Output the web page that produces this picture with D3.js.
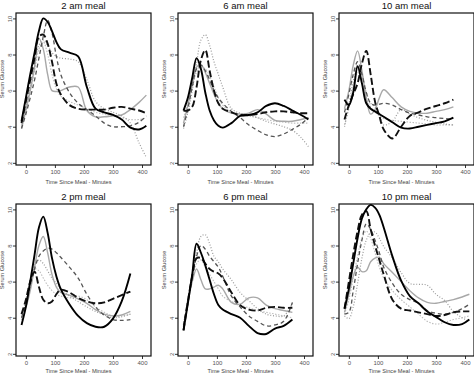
<!DOCTYPE html>
<html><head><meta charset="utf-8">
<script src="https://cdn.jsdelivr.net/npm/d3@7"></script>
<style>body{margin:0;background:#fff} svg{display:block}</style>
</head><body><svg id="c" width="474" height="374"></svg>
<script>
// ---------- DATA ----------
const titles = ["2 am meal", "6 am meal", "10 am meal", "2 pm meal", "6 pm meal", "10 pm meal"];
const xLabel = "Time Since Meal - Minutes";
const yLabel = "Serum Glucose";
const xTicks = [0, 100, 200, 300, 400];
const yTicks = [2, 4, 6, 8, 10];
const timesLong  = [-15, 0, 15, 30, 45, 60, 75, 90, 105, 120, 150, 180, 210, 240, 270, 300, 330, 360, 390, 415];
const timesShort = [-15, 0, 15, 30, 45, 60, 75, 90, 105, 120, 150, 180, 210, 240, 270, 300, 330, 360];

// series order: solid black, long-dash black, dashed gray, dotted gray, solid light gray, dotted light gray
const glucose2am = [
  [4.3, 5.6, 6.9, 8.1, 9.3, 10.0, 9.8, 9.3, 8.7, 8.3, 8.1, 7.9, 6.2, 5.0, 4.8, 4.65, 4.4, 3.95, 3.85, 4.05],
  [4.2, 5.4, 6.6, 7.8, 9.0, 9.1, 8.6, 7.6, 6.4, 5.8, 5.2, 5.0, 4.95, 4.95, 4.95, 5.05, 5.1, 5.0, 4.9, 4.75],
  [3.9, 4.7, 5.6, 6.6, 7.8, 9.0, 9.9, 9.2, 7.9, 6.9, 5.9, 5.3, 4.95, 4.6, 4.2, 4.0, 4.0, 4.05, 4.25, 4.6],
  [4.0, 5.0, 6.2, 7.4, 8.5, 8.8, 8.5, 8.1, 7.9, 7.8, 7.75, 7.6, 6.6, 5.4, 5.0, 4.8, 4.6, 4.2, 3.1, 2.3],
  [3.9, 4.9, 6.0, 7.3, 8.9, 8.3, 6.9, 6.0, 5.95, 6.0, 6.2, 6.2, 4.9, 4.55, 4.55, 4.6, 4.65, 4.95, 5.35, 5.75],
  [4.1, 5.0, 6.0, 7.1, 8.3, 8.7, 8.0, 6.9, 6.1, 5.7, 5.4, 5.2, 5.0, 4.8, 4.7, 4.6, 4.5, 4.4, 4.4, 4.5]
];
const glucose6am = [
  [4.9, 5.6, 6.7, 7.8, 7.2, 5.9, 4.9, 4.35, 4.05, 3.95, 4.2, 4.6, 4.65, 4.8, 5.15, 5.3, 5.15, 4.9, 4.65, 4.4],
  [4.9, 4.9, 5.1, 6.2, 7.7, 8.25, 7.1, 6.0, 5.3, 5.0, 4.8, 4.65, 4.65, 4.7, 4.8, 4.85, 4.85, 4.8, 4.75, 4.75],
  [4.0, 5.0, 6.2, 7.2, 7.4, 7.1, 6.6, 6.0, 5.6, 5.3, 4.85, 4.5, 4.1, 3.8, 3.55, 3.45, 3.6, 3.85, 4.15, 4.5],
  [3.9, 4.8, 6.0, 7.5, 8.8, 9.1, 8.5, 7.6, 6.9, 6.2, 5.0, 4.75, 4.65, 4.5, 4.3, 4.15, 4.0, 3.8, 3.4, 2.9],
  [4.2, 5.2, 6.3, 7.3, 7.45, 7.0, 6.4, 5.8, 5.3, 5.0, 4.75, 4.7, 4.75, 4.95, 4.7, 4.35, 4.3, 4.3, 4.4, 4.5],
  [4.5, 5.3, 6.3, 7.0, 7.3, 7.2, 6.8, 6.2, 5.6, 5.2, 4.8, 4.7, 4.6, 4.5, 4.4, 4.3, 4.25, 4.2, 4.2, 4.2]
];
const glucose10am = [
  [5.5, 5.2, 5.9, 7.35, 6.4, 5.3, 5.0, 4.85, 4.7, 4.55, 4.25, 3.95, 3.9, 4.0, 4.1, 4.2, 4.3, 4.5],
  [4.4, 5.2, 5.8, 6.4, 7.5, 8.2, 6.9, 5.4, 4.6, 3.85, 3.35, 4.0, 4.6, 4.8, 5.0, 5.15, 5.3, 5.5],
  [4.8, 5.8, 6.9, 7.6, 6.9, 5.9, 5.3, 5.2, 5.25, 5.3, 5.2, 4.95, 4.75, 4.65, 4.55, 4.5, 4.45, 4.4],
  [4.0, 5.2, 6.5, 7.4, 6.9, 5.9, 5.3, 5.1, 4.7, 4.1, 4.3, 4.95, 4.7, 4.5, 4.35, 4.25, 4.15, 4.1],
  [5.0, 6.0, 7.4, 8.2, 7.1, 5.6, 4.7, 4.95, 5.6, 6.05, 5.6, 5.1, 4.85, 4.75, 4.75, 4.85, 4.95, 5.1],
  [4.1, 5.0, 6.2, 7.0, 6.5, 5.6, 5.1, 4.8, 4.6, 4.45, 4.35, 4.3, 4.25, 4.2, 4.15, 4.1, 4.1, 4.1]
];
const glucose2pm = [
  [3.6, 4.6, 6.0, 7.5, 9.0, 9.6, 8.7, 7.3, 6.3, 5.6, 4.75, 4.1, 3.7, 3.5, 3.5, 3.95, 4.9, 6.45],
  [4.2, 5.0, 6.0, 6.55, 5.7, 5.0, 4.8, 4.9, 5.3, 5.55, 5.4, 5.1, 4.9, 4.8, 4.85, 5.05, 5.25, 5.45],
  [4.0, 4.8, 5.8, 6.7, 7.4, 7.7, 7.85, 7.8, 7.6, 7.35, 6.8, 6.2, 5.3, 4.6, 4.15, 3.9, 3.85, 3.9],
  [3.9, 4.9, 6.1, 6.9, 7.2, 7.0, 6.6, 6.2, 5.9, 5.6, 5.2, 4.9, 4.6, 4.35, 4.15, 4.0, 4.05, 4.2],
  [4.2, 4.6, 5.5, 6.8, 8.0, 8.5, 7.6, 6.4, 5.7, 5.4, 5.25, 5.05, 4.8, 4.45, 4.2, 4.1, 4.15, 4.35],
  [4.0, 4.9, 6.0, 6.7, 6.6, 6.2, 5.8, 5.5, 5.3, 5.2, 5.1, 5.2, 5.0, 4.6, 4.3, 4.1, 4.1, 4.2]
];
const glucose6pm = [
  [3.3, 4.8, 6.4, 8.1, 7.6, 6.9, 6.1, 5.3, 4.7, 4.45, 4.2, 4.0, 3.55, 3.15, 3.1, 3.4, 3.55, 3.9],
  [3.3, 4.9, 6.3, 7.3, 7.3, 7.0, 6.7, 6.55, 6.45, 6.2, 5.4, 4.7, 4.45, 4.4, 4.55, 4.6, 4.55, 4.55],
  [3.6, 5.0, 6.3, 7.4, 8.0, 7.8, 7.4, 7.1, 6.8, 6.3, 5.2, 4.6, 4.1, 3.8, 3.55, 3.6, 3.8, 4.85],
  [3.6, 4.9, 6.3, 7.6, 8.5, 8.6, 8.1, 7.4, 7.1, 6.7, 6.1, 5.4, 4.95, 4.5, 4.2, 4.1, 4.1, 4.8],
  [3.5, 4.8, 6.0, 6.7, 6.1, 5.6, 5.6, 5.7, 5.8, 5.6, 4.85, 4.75, 5.1, 5.1, 4.7, 4.5, 4.4, 4.3],
  [3.7, 4.9, 6.1, 7.0, 7.2, 6.8, 6.4, 6.0, 5.6, 5.2, 4.9, 4.7, 4.55, 4.4, 4.3, 4.2, 4.1, 4.0]
];
const glucose10pm = [
  [4.5, 5.6, 7.0, 8.4, 9.5, 10.0, 10.25, 10.1, 9.7, 9.0, 7.4, 6.05, 5.2, 4.8, 4.35, 4.05, 3.75, 3.6, 3.65, 3.9],
  [4.5, 6.0, 7.5, 8.8, 9.7, 9.9, 8.9, 8.0, 7.2, 6.4, 5.0, 4.5, 4.4, 4.3, 4.2, 4.1, 4.15, 4.3, 4.35, 4.35],
  [4.2, 4.3, 5.5, 7.0, 8.3, 9.2, 8.9, 8.3, 7.6, 6.8, 5.9, 5.3, 5.0, 4.8, 4.4, 4.25, 4.2, 4.3, 4.5, 4.75],
  [4.1, 3.95, 4.6, 5.9, 7.3, 8.3, 8.7, 8.75, 8.4, 7.95, 7.3, 6.5, 5.9, 5.85, 5.8, 5.3, 4.95, 4.35, 4.0, 3.8],
  [4.3, 5.3, 6.3, 6.8, 6.55, 6.6, 7.1, 7.3, 7.35, 7.0, 6.5, 6.0, 5.5, 5.1, 4.85, 4.8, 4.9, 5.0, 5.15, 5.3],
  [4.2, 5.0, 6.2, 7.4, 8.4, 8.8, 8.4, 7.6, 6.8, 6.2, 5.5, 5.0, 4.6, 4.2, 3.8, 3.65, 3.75, 3.9, 4.0, 4.1]
];

const panelValues = [glucose2am, glucose6am, glucose10am, glucose2pm, glucose6pm, glucose10pm];
const panelTimes  = [timesLong, timesLong, timesShort, timesShort, timesShort, timesLong];

// ---------- STYLE / LAYOUT ----------
const styles = [
  {stroke: "#000",    width: 1.9, dash: null},
  {stroke: "#111",    width: 1.9, dash: "7,3"},
  {stroke: "#555",    width: 1.3, dash: "4,3"},
  {stroke: "#999",    width: 1.2, dash: "1,1.8"},
  {stroke: "#a8a8a8", width: 1.4, dash: null},
  {stroke: "#bdbdbd", width: 1.1, dash: "1.5,1.5"}
];
const colLeft = [16, 178, 339];
const rowTop = [13, 204];
const W = 135, H = 152;
const font = "'Liberation Sans', Arial, Helvetica, sans-serif";

const svg = d3.select("#c").style("font-family", font);
const x = d3.scaleLinear().domain([-34, 431]).range([0, W]);
const y = d3.scaleLinear().domain([1.88, 10.3]).range([H, 0]);

panelValues.forEach((series, i) => {
  const col = i % 3, row = Math.floor(i / 3);
  const g = svg.append("g").attr("transform", `translate(${colLeft[col]},${rowTop[row]})`);
  const times = panelTimes[i];

  g.append("clipPath").attr("id", "clip" + i)
    .append("rect").attr("width", W).attr("height", H);

  // title
  g.append("text").attr("x", W / 2).attr("y", row === 0 ? -4.5 : -4)
    .attr("text-anchor", "middle").attr("font-size", 9.5).attr("fill", "#111")
    .text(titles[i]);

  // axes
  const ax = g.append("g").attr("transform", `translate(0,${H})`)
    .call(d3.axisBottom(x).tickValues(xTicks).tickSize(3).tickPadding(2).tickFormat(d3.format("d")));
  ax.select(".domain").remove();
  ax.selectAll("line").attr("stroke", "#333");
  ax.selectAll("text").attr("font-size", 6).attr("fill", "#555").attr("font-family", font);

  const ay = g.append("g")
    .call(d3.axisLeft(y).tickValues(yTicks).tickSize(3).tickFormat(d3.format("d")));
  ay.select(".domain").remove();
  ay.selectAll("line").attr("stroke", "#333");
  ay.selectAll("text").attr("font-size", 6).attr("fill", "#555").attr("font-family", font)
    .attr("transform", "rotate(-90)").attr("x", 0).attr("y", -4).attr("dy", 0)
    .attr("text-anchor", "middle");

  // axis labels
  g.append("text").attr("x", W / 2 - 5).attr("y", row === 0 ? H + 19 : H + 16.5)
    .attr("text-anchor", "middle").attr("font-size", 5.6).attr("fill", "#444").text(xLabel);
  g.append("text").attr("transform", `translate(-12,${H / 2 - 10}) rotate(-90)`)
    .attr("text-anchor", "middle").attr("font-size", 5.6).attr("fill", "#444").text(yLabel);

  // lines
  const line = d3.line().x(d => x(d[0])).y(d => y(d[1])).curve(d3.curveCatmullRom.alpha(0.5));
  const lg = g.append("g").attr("clip-path", `url(#clip${i})`);
  for (let s = series.length - 1; s >= 0; s--) {
    const st = styles[s];
    lg.append("path")
      .datum(series[s].map((v, k) => [times[k], v]))
      .attr("fill", "none").attr("stroke", st.stroke).attr("stroke-width", st.width)
      .attr("stroke-dasharray", st.dash).attr("stroke-linejoin", "round")
      .attr("d", line);
  }

  // box
  g.append("rect").attr("width", W).attr("height", H)
    .attr("fill", "none").attr("stroke", "#111").attr("stroke-width", 1.2);
});
</script></body></html>
